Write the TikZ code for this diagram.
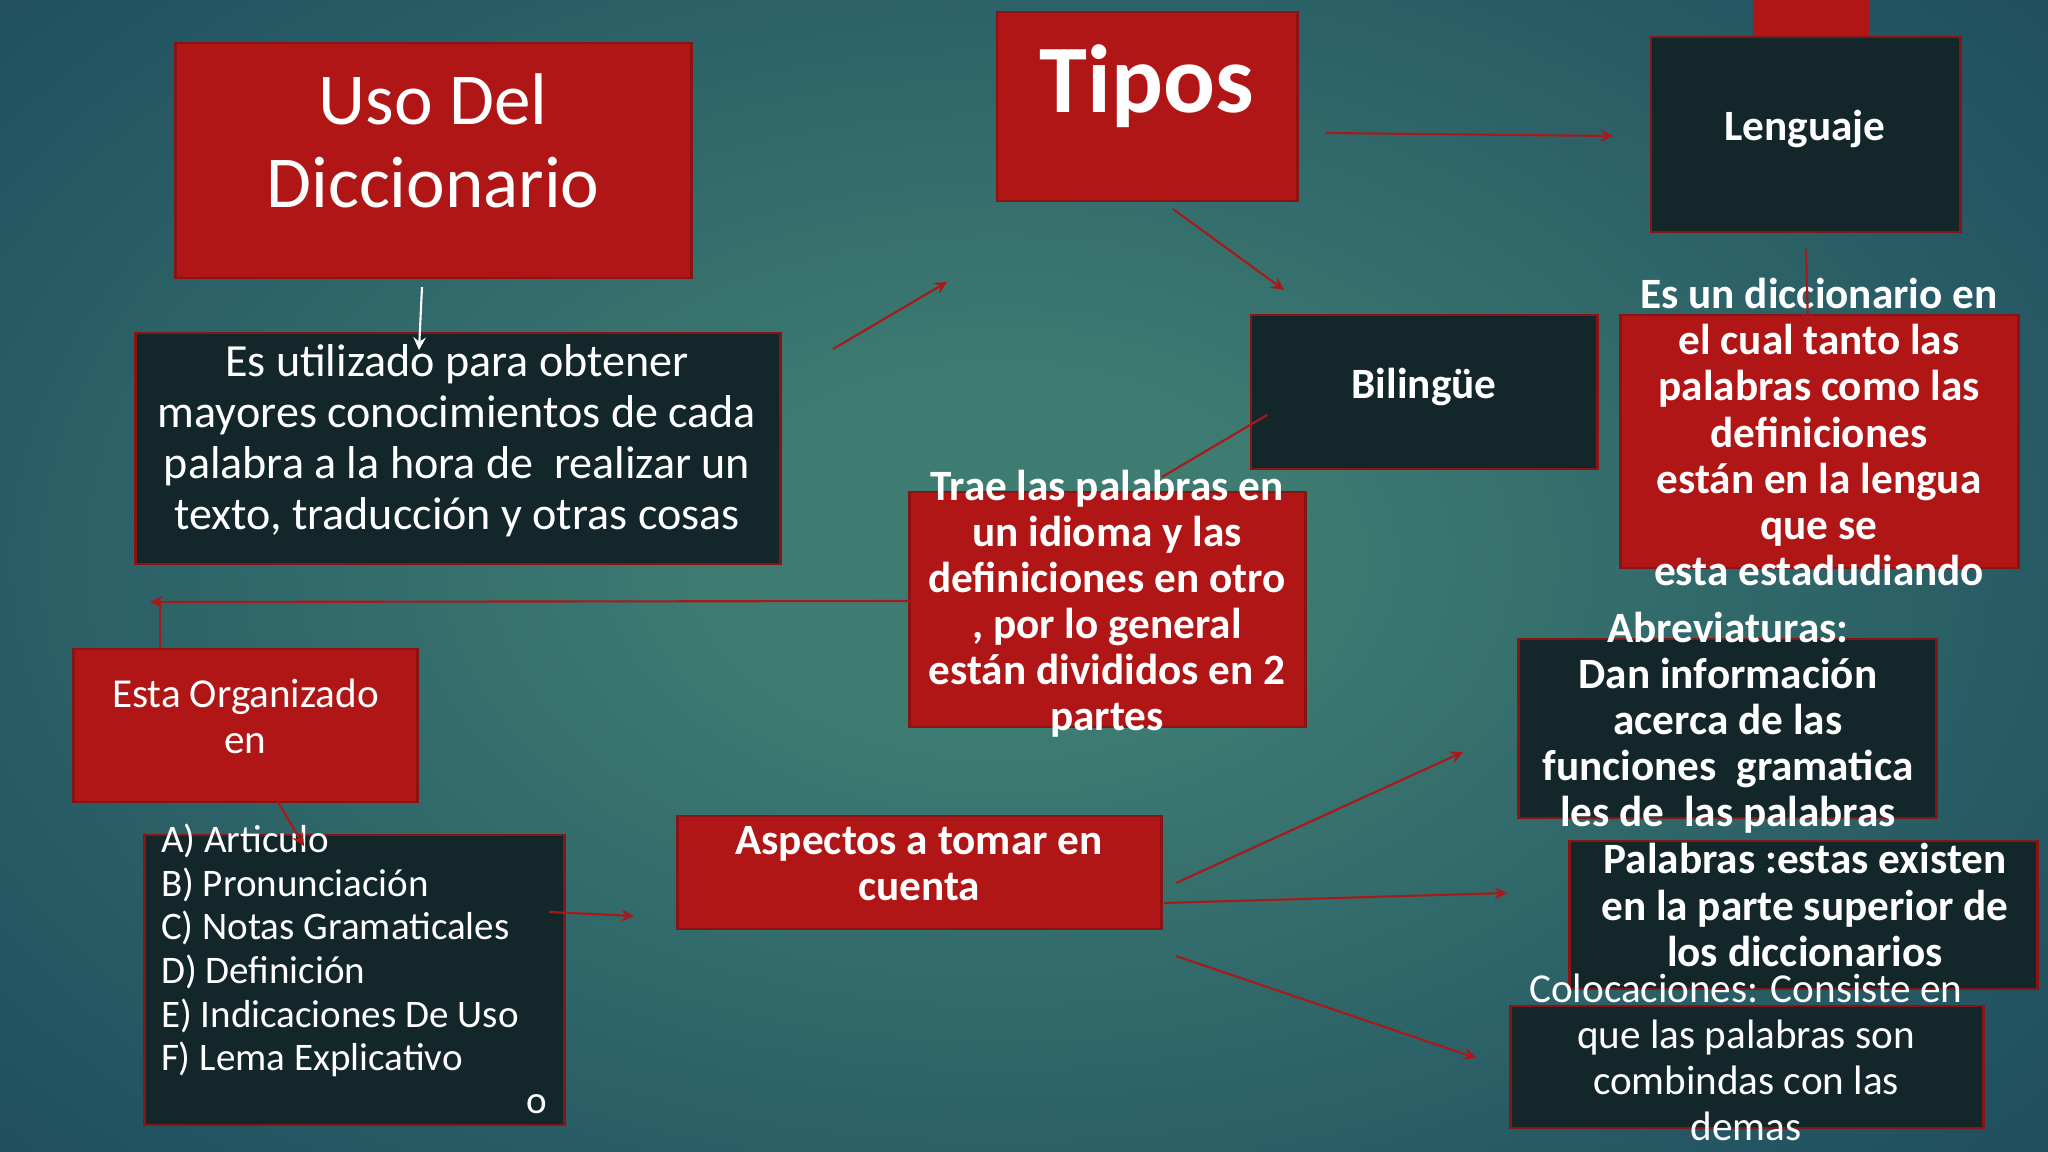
\documentclass[tikz,border=0pt]{standalone}
\usepackage{fontspec}
\setmainfont{Carlito}
\usepackage{xcolor}
\usetikzlibrary{arrows}
\usetikzlibrary{calc}

\definecolor{boxred}{HTML}{B01616}
\definecolor{edgered}{HTML}{8A1414}
\definecolor{boxdark}{HTML}{13272B}
\definecolor{arrred}{HTML}{A81A1A}
\definecolor{bgin}{HTML}{3E7C72}
\definecolor{bgmid}{HTML}{235562}
\definecolor{bgout}{HTML}{153B4F}

\pgfdeclareradialshading{fondo}{\pgfpoint{0bp}{0bp}}{%
  color(0bp)=(bgin); color(6bp)=(bgin); color(27bp)=(bgmid); color(46bp)=(bgout); color(50bp)=(bgout)}

\begin{document}
\begin{tikzpicture}[
                > = stealth, % arrow head style
                x = 0.01cm, y = -0.01cm, % one unit per pixel
                semithick % line style
        ]

        \tikzstyle{caja}=[
            draw = edgered,
            line width = 0.8pt,
            fill = boxred,
            inner sep = 0pt
        ]
        \tikzstyle{oscura}=[caja, fill = boxdark]
        \tikzstyle{texto}=[text = white, align = center, inner sep = 0pt,
            font = \fontsize{12.3}{13.1}\selectfont\bfseries]
        \tikzstyle{fino}=[texto, font = \fontsize{11.7}{13.1}\selectfont]
        \tikzstyle{flecha}=[->, draw = arrred, line width = 0.6pt]

        \useasboundingbox (0,0) rectangle (2048,1152);
        \fill[bgout] (0,0) rectangle (2048,1152);
        \shade[shading = fondo] (-100,-140) rectangle (2100,1260);

        % cajas
        \node[caja, minimum width = 5.15cm, minimum height = 2.35cm] (uso) at (433.5,160.5) {};
        \node[caja, minimum width = 3.00cm, minimum height = 1.89cm] (tipos) at (1147,106.5) {};
        \node[caja, draw = none, minimum width = 1.16cm, minimum height = 0.50cm] (tab) at (1811,12) {};
        \node[oscura, minimum width = 3.09cm, minimum height = 1.95cm] (leng) at (1805.5,134.5) {};
        \node[oscura, minimum width = 6.44cm, minimum height = 2.31cm] (util) at (458,448.5) {};
        \node[oscura, minimum width = 3.46cm, minimum height = 1.54cm] (bili) at (1424,392) {};
        \node[caja, minimum width = 3.97cm, minimum height = 2.53cm] (def) at (1819.5,441.5) {};
        \node[caja, minimum width = 3.95cm, minimum height = 2.35cm] (trae) at (1107.5,609.5) {};
        \node[caja, minimum width = 3.43cm, minimum height = 1.53cm] (org) at (245.5,725.5) {};
        \node[oscura, minimum width = 4.19cm, minimum height = 2.90cm] (lista) at (354.5,980) {};
        \node[caja, minimum width = 4.83cm, minimum height = 1.13cm] (asp) at (919.5,872.5) {};
        \node[oscura, minimum width = 4.17cm, minimum height = 1.79cm] (abr) at (1727.5,728.5) {};
        \node[oscura, minimum width = 4.67cm, minimum height = 1.48cm] (pal) at (1803.5,915) {};
        \node[oscura, minimum width = 4.72cm, minimum height = 1.22cm] (col) at (1747,1067) {};

        % textos
        \node[fino, font = \fontsize{20.8}{23.5}\selectfont] (usoT) at (433,141)
            {Uso Del\\Diccionario};
        \node[texto, font = \fontsize{27.5}{30}\selectfont\bfseries] (tiposT) at (1147,86) {Tipos};
        \node[texto] (lengT) at (1805,129) {Lenguaje};
        \node[fino, font = \fontsize{13.1}{14.5}\selectfont] (utilT) at (457,440.5)
            {Es utilizado para obtener\\mayores conocimientos de cada\\palabra a la hora de\ \ realizar un\\texto, traducción y otras cosas};
        \node[texto] (biliT) at (1424,387) {Bilingüe};
        \node[texto] (defT) at (1819,432)
            {Es un diccionario en\\el cual tanto las\\palabras como las\\definiciones\\están en la lengua\\que se\\esta estadudiando};
        \node[texto] (traeT) at (1107,604)
            {Trae las palabras en\\un idioma y las\\definiciones en otro\\, por lo general\\están divididos en 2\\partes};
        \node[fino] (orgT) at (245.5,716) {Esta Organizado\\en};
        \node[fino, align = left, anchor = west, font = \fontsize{11.1}{12.4}\selectfont] (listT) at (160,950.5)
            {A) Articulo\\B) Pronunciación\\C) Notas Gramaticales\\D) Definición\\E) Indicaciones De Uso\\F) Lema Explicativo};
        \node[fino, font = \fontsize{11.1}{12.4}\selectfont] (oT) at (537,1104) {o};
        \node[texto] (aspT) at (919,864) {Aspectos a tomar en\\cuenta};
        \node[texto] (abrT) at (1728,723)
            {Abreviaturas:\\Dan información\\acerca de las\\funciones\ \ gramatica\\les de\ \ las palabras};
        \node[texto] (palT) at (1805,905)
            {Palabras :estas existen\\en la parte superior de\\los diccionarios};
        \node[fino] (colT) at (1746,1057)
            {Colocaciones: Consiste en\\que las palabras son\\combindas con las\\demas};

        % extremos de las flechas
        \coordinate (u1) at (422,287);    \coordinate (u2) at (419,350);
        \coordinate (p1) at (833,349);    \coordinate (p2) at (947,282);
        \coordinate (t1) at (1326,133);   \coordinate (t2) at (1613,136);
        \coordinate (t3) at (1173,209);   \coordinate (t4) at (1284,290);
        \coordinate (l1) at (1806,249);   \coordinate (l2) at (1808,326);
        \coordinate (b1) at (1267,415);   \coordinate (b2) at (1162,477);
        \coordinate (r1) at (910,601);    \coordinate (r2) at (150,602);
        \coordinate (r3) at (160,602);
        \coordinate (o1) at (278,802);    \coordinate (o2) at (304,846);
        \coordinate (s1) at (549,912);    \coordinate (s2) at (634,916);
        \coordinate (a1) at (1176,883);   \coordinate (a2) at (1463,752);
        \coordinate (a3) at (1164,903);   \coordinate (a4) at (1507,893);
        \coordinate (a5) at (1176,956);   \coordinate (a6) at (1476,1058);

        \draw[->, white, line width = 0.6pt] (u1) -- (u2);
        \draw[flecha] (p1) -- (p2);
        \draw[flecha] (t1) -- (t2);
        \draw[flecha] (t3) -- (t4);
        \draw[flecha] (l1) -- (l2);
        \draw[flecha, -] (b1) -- (b2);
        \draw[flecha] (r1) -- (r2);
        \draw[flecha, -] (r3) -- (org.north -| r3);
        \draw[flecha] (o1) -- (o2);
        \draw[flecha] (s1) -- (s2);
        \draw[flecha] (a1) -- (a2);
        \draw[flecha] (a3) -- (a4);
        \draw[flecha] (a5) -- (a6);

\end{tikzpicture}
\end{document}
